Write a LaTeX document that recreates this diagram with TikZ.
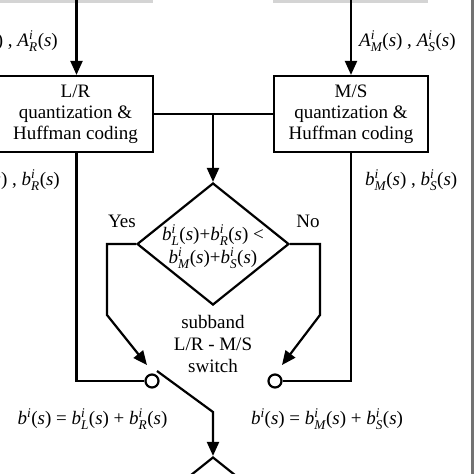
\documentclass[tikz,border=0pt]{standalone}
\usepackage{fontspec}
\usepackage{amsmath}
\setmainfont{Liberation Serif}
\usetikzlibrary{arrows.meta,shapes.geometric}
\newcommand\sv[2]{\textit{#1}$^{\text{\itshape i}}_{\text{\itshape #2}}$(\textit{s})}
\newcommand\bsv{\textit{b}$^{\text{\itshape i}}$(\textit{s})}
\begin{document}
\begin{tikzpicture}[x=1pt,y=-1pt]
\tikzset{
  ln/.style={line width=2.2pt, black},
  arr/.style={ln, -{Triangle[length=14pt,width=12pt]}},
  boxnode/.style={draw, line width=2.2pt, minimum height=76pt, align=center, inner sep=0pt, font=\fontsize{19}{21}\selectfont},
  lbl/.style={inner sep=0pt, font=\fontsize{19}{21}\selectfont},
  dia/.style={draw, line width=2.2pt, shape=diamond, minimum width=152pt, minimum height=122pt, inner sep=0pt},
  sw/.style={draw, line width=2.2pt, circle, minimum size=13pt, inner sep=0pt, fill=white}
}
\useasboundingbox (0,0) rectangle (474,474);
\clip (0,0) rectangle (474,474);
\fill[white] (0,0) rectangle (474,474);
% cropped remains of the figure
\fill[black!17] (0,0) rectangle (153,2.5);
\fill[black!17] (273,0) rectangle (428,2.5);
\fill[black!55] (470.5,0) rectangle (474,474);

\coordinate (inL) at (76.5,-5);
\coordinate (inR) at (351,-5);
\node[boxnode, minimum width=155pt] (lbox) at (75.5,114) {L/R\\quantization \&\\Huffman coding};
\node[boxnode, minimum width=154pt] (rbox) at (351,114) {M/S\\quantization \&\\Huffman coding};
\draw[arr] (inL) -- (inL |- lbox.north);
\draw[arr] (inR) -- (rbox.north);
\draw[ln] (lbox.east) -- (rbox.west);
\coordinate (jn) at (213,114);
\node[dia] (dmain) at (213,244) {};
\draw[arr] (jn) -- (dmain.north);

\coordinate (yA) at (107,244); \coordinate (yB) at (107,315); \coordinate (yT) at (147,365);
\draw[arr] (dmain.west) -- (yA) -- (yB) -- (yT);
\coordinate (nA) at (320,244); \coordinate (nB) at (320,315); \coordinate (nT) at (282,365);
\draw[arr] (dmain.east) -- (nA) -- (nB) -- (nT);

\node[sw] (cl) at (152,381) {};
\node[sw] (cr) at (275,381) {};
\coordinate (lcorner) at (76.5,381);
\coordinate (rcorner) at (351,381);
\draw[ln] (inL |- lbox.south) -- (lcorner) -- (cl.west);
\draw[ln] (rbox.south) -- (rcorner) -- (cr.east);

\coordinate (swA) at (157,371); \coordinate (swB) at (213,412);
\node[dia] (dbot) at (213,518) {};
\draw[arr] (swA) -- (swB) -- (dbot.north);

% labels
\node[lbl, anchor=base east] (tA) at (58,46) {\sv{A}{L} , \sv{A}{R}};
\node[lbl, anchor=base west] (tB) at (359,46) {\sv{A}{M} , \sv{A}{S}};
\node[lbl, anchor=base east] (tC) at (60,185) {\sv{b}{L} , \sv{b}{R}};
\node[lbl, anchor=base west] (tD) at (365,185) {\sv{b}{M} , \sv{b}{S}};
\node[lbl, anchor=base] (yes) at (122,227) {Yes};
\node[lbl, anchor=base] (no) at (308,227) {No};
\node[lbl, anchor=base] (d1) at (213,240) {\sv{b}{L}+\sv{b}{R} <};
\node[lbl, anchor=base] (d2) at (213,263) {\sv{b}{M}+\sv{b}{S}};
\node[lbl, anchor=base] (s1) at (213,328) {subband};
\node[lbl, anchor=base] (s2) at (213,350) {L/R - M/S};
\node[lbl, anchor=base] (s3) at (213,372) {switch};
\node[lbl, anchor=base] (eL) at (92.5,424) {\bsv{} = \sv{b}{L} + \sv{b}{R}};
\node[lbl, anchor=base] (eR) at (327,424) {\bsv{} = \sv{b}{M} + \sv{b}{S}};
\end{tikzpicture}
\end{document}
